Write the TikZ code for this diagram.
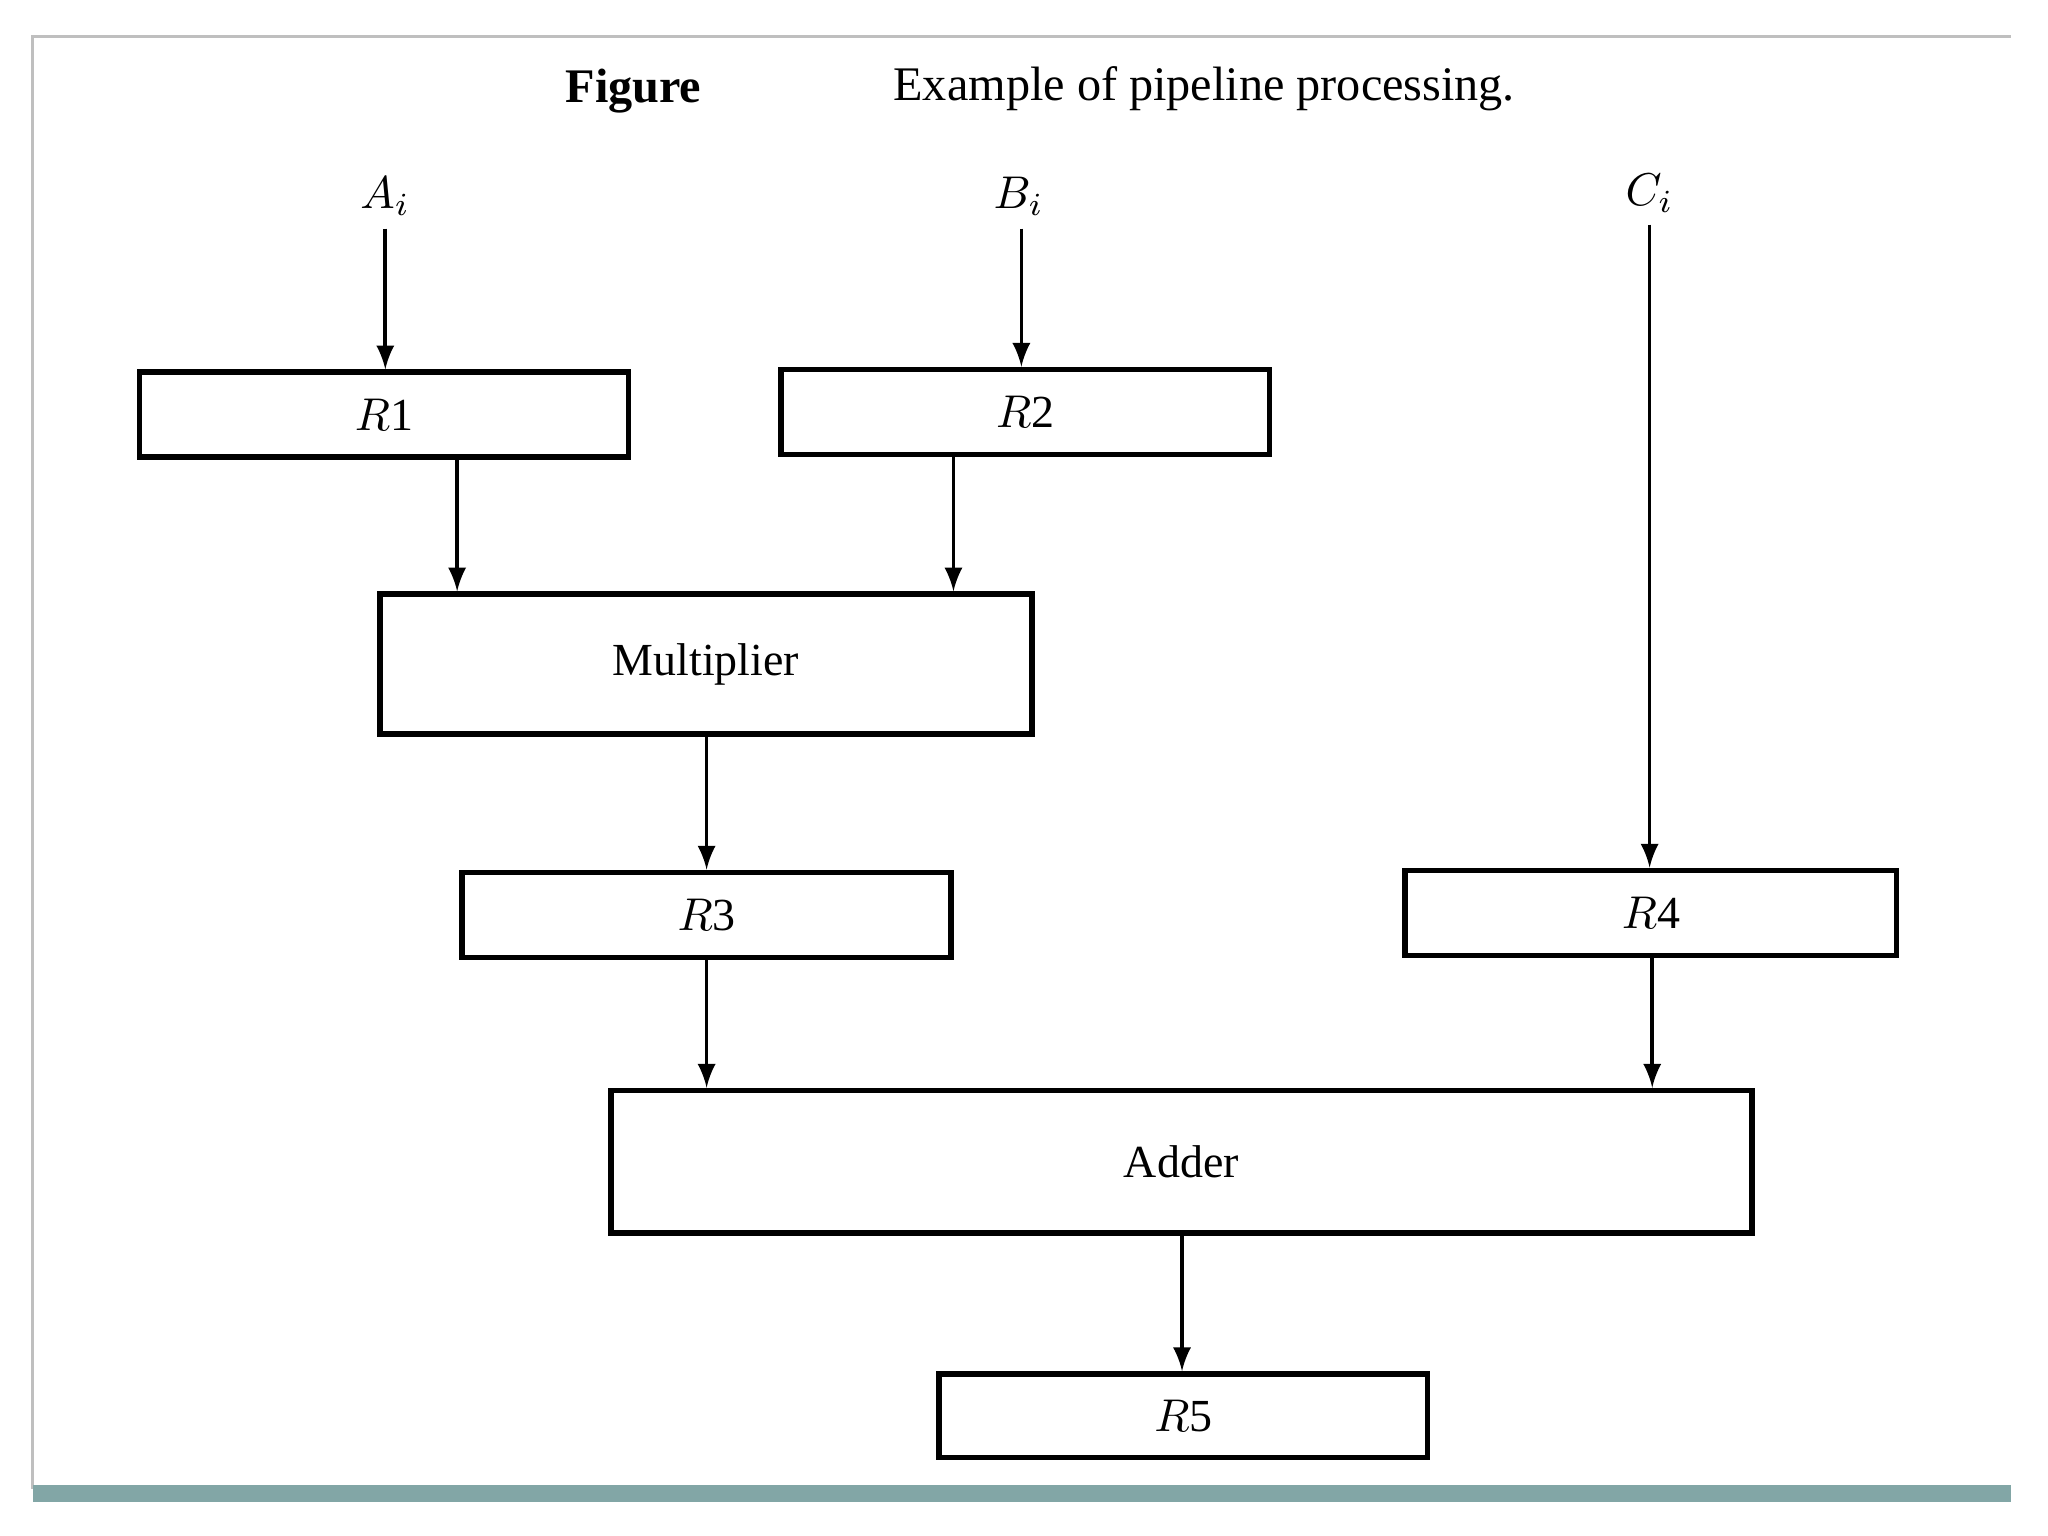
\documentclass[tikz,border=0pt]{standalone}
\usepackage{fontspec}
\setmainfont{Liberation Serif}
\begin{document}
\begin{tikzpicture}[x=0.01cm,y=-0.01cm,
  reg/.style={draw,line width=1.2pt,minimum height=0.65cm,minimum width=3.74cm,inner sep=0pt,font=\fontsize{10}{12}\selectfont},
  arr/.style={->,>=latex,line width=0.8pt},
  lbl/.style={font=\fontsize{10}{12}\selectfont}]
\useasboundingbox (0,0) rectangle (1568,1176);
\fill[white] (0,0) rectangle (1568,1176);
\draw[gray!50,line width=0.6pt] (25,1140) -- (25,28) -- (1540,28);
\fill[teal!40!gray!70] (25,1137) rectangle (1540,1150);
\node[lbl,font=\fontsize{10.5}{12}\selectfont\bfseries] (t1) at (485,70) {Figure};
\node[lbl,font=\fontsize{10.5}{12}\selectfont] (t2) at (922,68) {Example of pipeline processing.};
\node[lbl] (A) at (295,150) {$A_i$};
\node[lbl] (B) at (780,150) {$B_i$};
\node[lbl] (C) at (1263,148) {$C_i$};
\node[reg] (R1) at (294,317.5) {$R$1};
\node[reg] (R2) at (785,315.5) {$R$2};
\node[reg,minimum width=4.99cm,minimum height=1.07cm] (M) at (540.5,508.5) {Multiplier};
\node[reg] (R3) at (541,700.5) {$R$3};
\node[reg,minimum width=3.76cm] (R4) at (1264,699) {$R$4};
\node[reg,minimum width=8.73cm,minimum height=1.09cm] (AD) at (904.5,889.5) {Adder};
\node[reg,minimum height=0.64cm] (R5) at (906,1084) {$R$5};
\draw[arr] (295,175) -- (R1.north -| 295,0);
\draw[arr] (782,175) -- (R2.north -| 782,0);
\draw[arr] (1263,172) -- (R4.north -| 1263,0);
\draw[arr] (R1.south -| 350,0) -- (M.north -| 350,0);
\draw[arr] (R2.south -| 730,0) -- (M.north -| 730,0);
\draw[arr] (M.south -| 541,0) -- (R3.north);
\draw[arr] (R3.south) -- (AD.north -| 541,0);
\draw[arr] (R4.south -| 1265,0) -- (AD.north -| 1265,0);
\draw[arr] (AD.south -| 905,0) -- (R5.north -| 905,0);
\end{tikzpicture}
\end{document}
